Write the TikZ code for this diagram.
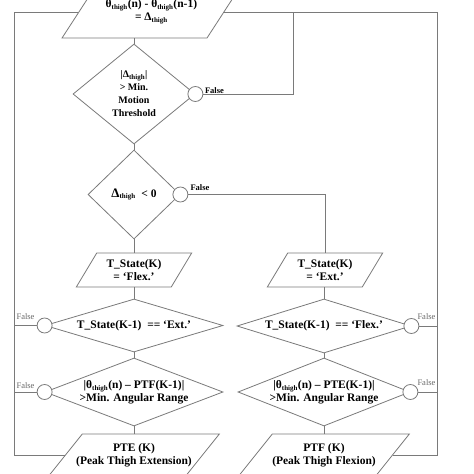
\documentclass[tikz,border=0pt]{standalone}
\usepackage{fontspec}
\setmainfont{Liberation Serif}
\usetikzlibrary{shapes.geometric}
\definecolor{linegray}{HTML}{7A7A7A}
\definecolor{labgray}{HTML}{6A6A6A}
\newcommand{\thighsub}{\textsubscript{\fontsize{7}{8}\selectfont thigh}}
\begin{document}
\begin{tikzpicture}[x=1pt,y=-1pt,
  ln/.style={draw=linegray, line width=0.8pt},
  dec/.style={diamond, ln, inner sep=0pt, aspect=1},
  pa/.style={trapezium, ln, inner sep=0pt, trapezium left angle=#1, trapezium right angle=180-#1},
  txt/.style={font=\bfseries\fontsize{11.5}{13}\selectfont, align=center, inner sep=0pt},
  txts/.style={font=\bfseries\fontsize{10}{13}\selectfont, align=center, inner sep=0pt},
  knob/.style={circle, ln, fill=white, minimum size=15pt, inner sep=0pt},
  fb/.style={font=\bfseries\fontsize{8.5}{9}\selectfont, inner sep=0pt},
  fr/.style={font=\fontsize{8.5}{9}\selectfont, text=labgray, inner sep=0pt}]
\fill[white] (0,0) rectangle (474,474);
\useasboundingbox (0,0) rectangle (474,474);
% frame x positions
\coordinate (lx) at (14,0);
\coordinate (rx) at (437,0);
\coordinate (jx) at (293,12);
% process boxes
\node[pa=57, inner xsep=55.6pt, inner ysep=26pt,
  label={[txt]center:{θ\thighsub(n) - θ\thighsub(n-1)\\= Δ\thighsub}}] (top) at (151.4,12) {};
\node[pa=59, inner xsep=37.25pt, inner ysep=17pt,
  label={[txt]center:{T\_State(K)\\= ‘Flex.’}}] (flex) at (134,270) {};
\node[pa=59, inner xsep=37.25pt, inner ysep=17pt,
  label={[txt]center:{T\_State(K)\\= ‘Ext.’}}] (ext) at (325,270) {};
\node[pa=51.3, inner xsep=51.7pt, inner ysep=21pt,
  label={[txt]center:{PTE (K)\\(Peak Thigh Extension)}}] (pte) at (134,455) {};
\node[pa=51.3, inner xsep=51.7pt, inner ysep=21pt,
  label={[txt]center:{PTF (K)\\(Peak Thigh Flexion)}}] (ptf) at (324,455) {};
% decisions
\node[dec, minimum width=122pt, minimum height=100pt,
  label={[txts]center:{|Δ\thighsub|\\> Min.\\Motion\\Threshold}}] (d1) at (134,94) {};
\node[dec, minimum width=92pt, minimum height=89pt,
  label={[txt]center:{{\fontsize{13}{13}\selectfont Δ}\thighsub\ \ <\ 0}}] (d2) at (134,194.5) {};
\node[dec, minimum width=178pt, minimum height=53pt,
  label={[txt]center:{T\_State(K-1)\ \ ==\ ‘Ext.’}}] (d3l) at (134,325.5) {};
\node[dec, minimum width=178pt, minimum height=68pt,
  label={[txt]center:{|θ\thighsub(n) – PTF(K-1)|\\>Min. Angular Range}}] (d4l) at (134,392) {};
\node[dec, minimum width=174pt, minimum height=54pt,
  label={[txt]center:{T\_State(K-1)\ \ ==\ ‘Flex.’}}] (d3r) at (324,326) {};
\node[dec, minimum width=172pt, minimum height=68pt,
  label={[txt]center:{|θ\thighsub(n) – PTE(K-1)|\\>Min. Angular Range}}] (d4r) at (324,392) {};
% connectors
\draw[ln] (d1.north) -- (d1.north |- top.south);
\draw[ln] (d1.south) -- (d2.north);
\draw[ln] (d2.south) -- (d2.south |- flex.north);
\draw[ln] (d3l.north) -- (d3l.north |- flex.south);
\draw[ln] (d3l.south) -- (d4l.north);
\draw[ln] (d4l.south) -- (d4l.south |- pte.north);
\draw[ln] (d3r.north) -- (d3r.north |- ext.south);
\draw[ln] (d3r.south) -- (d4r.north);
\draw[ln] (d4r.south) -- (d4r.south |- ptf.north);
% frame loop
\draw[ln] (top.west) -- (top.west -| lx) -- (pte.west -| lx) -- (pte.west);
\draw[ln] (top.east) -- (top.east -| rx) -- (ptf.east -| rx) -- (ptf.east);
% false branches
\node[knob] (c1) at (d1.east) {};
\node[knob] (c2) at (d2.east) {};
\node[knob] (c3l) at (d3l.west) {};
\node[knob] (c4l) at (d4l.west) {};
\node[knob] (c3r) at (d3r.east) {};
\node[knob] (c4r) at (d4r.east) {};
\draw[ln] (c1.east) -| (jx);
\draw[ln] (c2.east) -| (ext.center |- ext.north);
\draw[ln] (c3l.west) -- (c3l.west -| lx);
\draw[ln] (c4l.west) -- (c4l.west -| lx);
\draw[ln] (c3r.east) -- (c3r.east -| rx);
\draw[ln] (c4r.east) -- (c4r.east -| rx);
\node[fb, anchor=base west] (f1) at ([xshift=1.5pt,yshift=1pt]c1.east) {False};
\node[fb, anchor=base west] (f2) at ([xshift=2pt,yshift=4.5pt]c2.east) {False};
\node[fr, anchor=base east] (f3l) at ([xshift=-2pt,yshift=6.5pt]c3l.west) {False};
\node[fr, anchor=base east] (f4l) at ([xshift=-2pt,yshift=4pt]c4l.west) {False};
\node[fr, anchor=base west] (f3r) at ([xshift=-2pt,yshift=7pt]c3r.east) {False};
\node[fr, anchor=base west] (f4r) at ([xshift=-1pt,yshift=7pt]c4r.east) {False};
\end{tikzpicture}
\end{document}
